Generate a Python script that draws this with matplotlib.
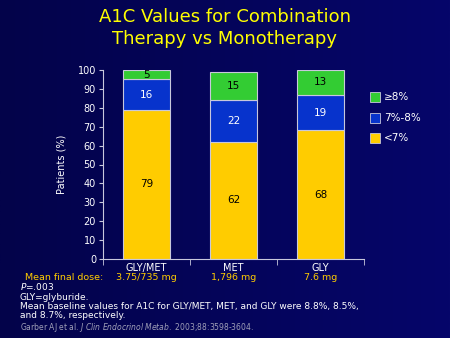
import matplotlib
matplotlib.use('Agg')
import matplotlib.pyplot as plt
import numpy as np
from matplotlib.colors import LinearSegmentedColormap

# Stacked bar data (percent of patients)
groups = ['GLY/MET', 'MET', 'GLY']
doses = ['3.75/735 mg', '1,796 mg', '7.6 mg']
below7 = [79, 62, 68]
mid7to8 = [16, 22, 19]
above8 = [5, 15, 13]
legend_labels = ['\u22658%', '7%-8%', '<7%']

YELLOW = '#ffcc00'
BLUE = '#0733cc'
GREEN = '#33cc33'
EDGE = '#c8c8dc'

W, H = 450, 338
fig = plt.figure(figsize=(W / 100, H / 100), dpi=100)

# navy background gradient, darker on the left
bg = fig.add_axes([0, 0, 1, 1])
grad = np.linspace(0, 1, 256).reshape(1, -1)
cmap = LinearSegmentedColormap.from_list('navy', ['#03034a', '#06066a'])
bg.imshow(grad, aspect='auto', cmap=cmap, extent=[0, 1, 0, 1])
bg.axis('off')

def fx(px):
    return px / W

def fy(py):
    return 1 - py / H

ax = fig.add_axes([fx(103), fy(259), fx(364) - fx(103), fy(70) - fy(259)])
ax.patch.set_alpha(0)

x = np.arange(len(groups))
bw = 0.55
ax.bar(x, below7, bw, color=YELLOW, edgecolor=EDGE, linewidth=0.8)
ax.bar(x, mid7to8, bw, bottom=below7, color=BLUE, edgecolor=EDGE, linewidth=0.8)
bottom3 = [a + b for a, b in zip(below7, mid7to8)]
ax.bar(x, above8, bw, bottom=bottom3, color=GREEN, edgecolor=EDGE, linewidth=0.8)

for i in range(len(groups)):
    ax.text(x[i], below7[i] / 2, str(below7[i]), ha='center', va='center',
            fontsize=7.5, color='black')
    ax.text(x[i], below7[i] + mid7to8[i] / 2, str(mid7to8[i]), ha='center',
            va='center', fontsize=7.5, color='white')
    ax.text(x[i], bottom3[i] + above8[i] / 2, str(above8[i]), ha='center',
            va='center', fontsize=7.5, color='black')

ax.set_xlim(-0.5, 2.5)
ax.set_ylim(0, 100)
ax.set_yticks(range(0, 101, 10))
ax.set_xticks(x)
ax.set_xticklabels(groups)
ax.set_xticks([-0.5, 0.5, 1.5, 2.5], minor=True)
ax.tick_params(axis='x', which='major', length=0, pad=3, labelsize=7, colors='white')
ax.tick_params(axis='x', which='minor', length=4, color=EDGE, direction='out')
ax.tick_params(axis='y', length=3, labelsize=7, colors='white', pad=2)
ax.tick_params(axis='y', color=EDGE)
for side in ['top', 'right']:
    ax.spines[side].set_visible(False)
for side in ['left', 'bottom']:
    ax.spines[side].set_color(EDGE)
    ax.spines[side].set_linewidth(0.8)
ax.set_ylabel('Patients (%)', color='white', fontsize=7, labelpad=8)

# legend drawn as squares to the right
leg_colors = [GREEN, BLUE, YELLOW]
leg_y = [97, 118, 138]
for c, lab, yy in zip(leg_colors, legend_labels, leg_y):
    fig.patches.append(plt.Rectangle((fx(370), fy(yy + 5)), fx(10), 10 / H,
                                     transform=fig.transFigure, facecolor=c,
                                     edgecolor=EDGE, linewidth=0.6))
    fig.text(fx(384), fy(yy), lab, color='white', fontsize=7.5, va='center')

# title
fig.text(0.5, fy(17), 'A1C Values for Combination', color='#ffff00',
         fontsize=13, ha='center', va='center')
fig.text(0.5, fy(39), 'Therapy vs Monotherapy', color='#ffff00',
         fontsize=13, ha='center', va='center')

# dose row
fig.text(fx(103), fy(277), 'Mean final dose:', color=YELLOW, fontsize=6.8,
         ha='right', va='center')
for i, d in enumerate(doses):
    xd = ax.transData.transform((x[i], 0))[0] / fig.dpi / fig.get_figwidth()
    fig.text(xd, fy(277), d, color=YELLOW, fontsize=6.8, ha='center', va='center')

# footnotes
fs = 6.5
fig.text(fx(20), fy(287), '$\\it{P}$=.003', color='white', fontsize=fs, va='center')
fig.text(fx(20), fy(297), 'GLY=glyburide.', color='white', fontsize=fs, va='center')
fig.text(fx(20), fy(307), 'Mean baseline values for A1C for GLY/MET, MET, and GLY were 8.8%, 8.5%,',
         color='white', fontsize=fs, va='center')
fig.text(fx(20), fy(316), 'and 8.7%, respectively.', color='white', fontsize=fs, va='center')
fig.text(fx(20), fy(328),
         'Garber AJ et al. $\\it{J\\ Clin\\ Endocrinol\\ Metab.}$ 2003;88:3598-3604.',
         color='#a0a0b8', fontsize=5.5, va='center')

fig.savefig('out.png', dpi=100)
